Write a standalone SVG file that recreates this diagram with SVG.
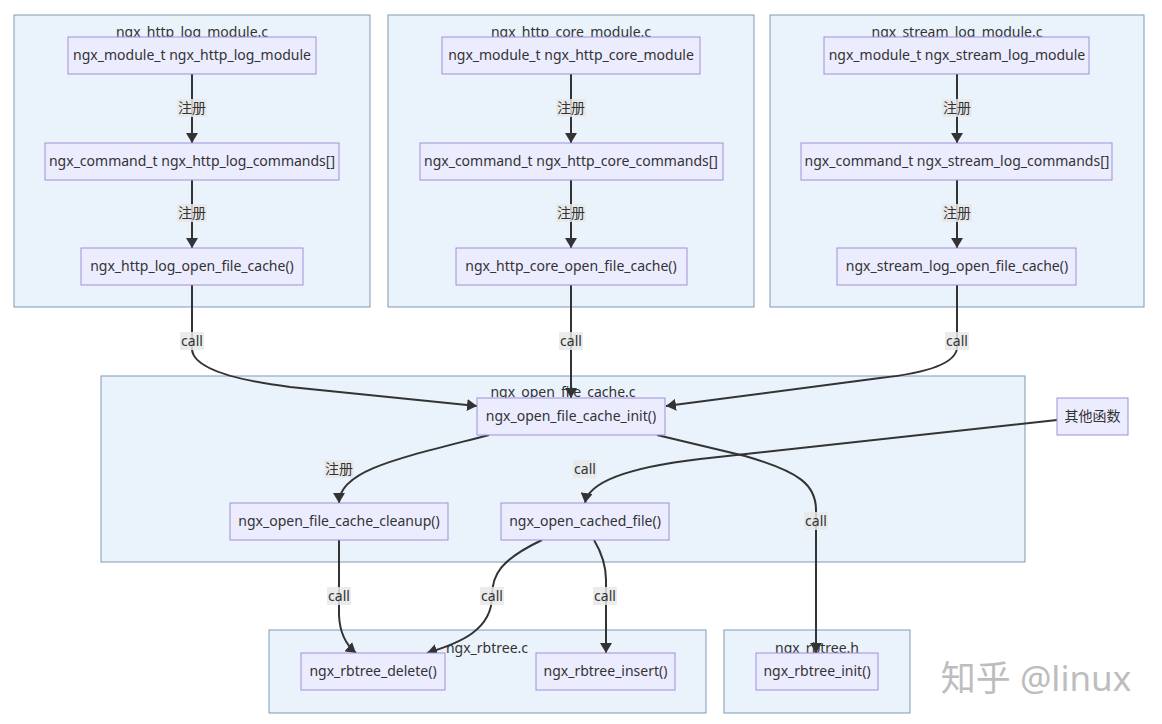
<svg xmlns="http://www.w3.org/2000/svg" width="1162" height="724" viewBox="0 0 1162 724">
<defs>
<marker id="ah" viewBox="0 0 10 12" refX="10" refY="6" markerWidth="10" markerHeight="12" markerUnits="userSpaceOnUse" orient="auto"><path d="M0,0 L10,6 L0,12 z" fill="#333"/></marker>
<style>
.cl{fill:#eaf2fb;stroke:#7d9bb5;stroke-width:1}
.nd{fill:#ececff;stroke:#9f8fd6;stroke-width:1}
text{font-family:"Noto Sans","Noto Sans CJK SC",sans-serif;font-size:14px;fill:#333;text-anchor:middle}
.e{fill:none;stroke:#333;stroke-width:2;marker-end:url(#ah)}
.lb{fill:#e8e8e8;fill-opacity:0.85}
</style>
</defs>
<rect width="1162" height="724" fill="#fff"/>
<g id="clusters">
<g id="c_http_log"><rect class="cl" x="14" y="15" width="356" height="292"/><text x="192" y="37">ngx_http_log_module.c</text></g>
<g id="c_http_core"><rect class="cl" x="388" y="15" width="366" height="292"/><text x="571" y="37">ngx_http_core_module.c</text></g>
<g id="c_stream_log"><rect class="cl" x="770" y="15" width="374" height="292"/><text x="957" y="37">ngx_stream_log_module.c</text></g>
<g id="c_open_file"><rect class="cl" x="101" y="376" width="924" height="186"/><text x="563" y="397">ngx_open_file_cache.c</text></g>
<g id="c_rbtree_c"><rect class="cl" x="269" y="630" width="437" height="83"/><text x="487" y="653">ngx_rbtree.c</text></g>
<g id="c_rbtree_h"><rect class="cl" x="724" y="630" width="186" height="83"/><text x="817" y="653">ngx_rbtree.h</text></g>
</g>
<g id="connectors">
<path class="e" d="M192,74 L192,143"/>
<path class="e" d="M192,180 L192,248"/>
<path class="e" d="M571,74 L571,143"/>
<path class="e" d="M571,180 L571,248"/>
<path class="e" d="M957,74 L957,143"/>
<path class="e" d="M957,180 L957,248"/>
<path class="e" d="M192,285 L192,350 Q195,375 290,387 L477,406"/>
<path class="e" d="M571,285 L571,398"/>
<path class="e" d="M957,285 L957,348 Q955,370 880,378 L666,406"/>
<path class="e" d="M489,435 C400,458 339,470 339,503"/>
<path class="e" d="M1057,420 L700,459 Q590,472 585,503"/>
<path class="e" d="M657,435 L745,456 C800,472 816,485 816,510 L816,653"/>
<path class="e" d="M339,540 L339,615 Q340,640 356,653"/>
<path class="e" d="M542,540 C500,560 492,575 492,596 C492,630 460,643 427,653"/>
<path class="e" d="M594,540 Q606,560 606,580 L606,653"/>
<g id="edge-labels">
<rect class="lb" x="177" y="99" width="30" height="18"/><text x="192" y="113">注册</text>
<rect class="lb" x="177" y="204" width="30" height="18"/><text x="192" y="218">注册</text>
<rect class="lb" x="556" y="99" width="30" height="18"/><text x="571" y="113">注册</text>
<rect class="lb" x="556" y="204" width="30" height="18"/><text x="571" y="218">注册</text>
<rect class="lb" x="942" y="99" width="30" height="18"/><text x="957" y="113">注册</text>
<rect class="lb" x="942" y="204" width="30" height="18"/><text x="957" y="218">注册</text>
<rect class="lb" x="180" y="332" width="24" height="18"/><text x="192" y="346">call</text>
<rect class="lb" x="559" y="332" width="24" height="18"/><text x="571" y="346">call</text>
<rect class="lb" x="945" y="332" width="24" height="18"/><text x="957" y="346">call</text>
<rect class="lb" x="324" y="460" width="30" height="18"/><text x="339" y="474">注册</text>
<rect class="lb" x="573" y="460" width="24" height="18"/><text x="585" y="474">call</text>
<rect class="lb" x="804" y="512" width="24" height="18"/><text x="816" y="526">call</text>
<rect class="lb" x="327" y="587" width="24" height="18"/><text x="339" y="601">call</text>
<rect class="lb" x="480" y="587" width="24" height="18"/><text x="492" y="601">call</text>
<rect class="lb" x="593" y="587" width="24" height="18"/><text x="605" y="601">call</text>
</g>
</g>
<g id="n_http_log_module"><rect class="nd" x="68" y="37" width="248" height="37"/><text x="192" y="60">ngx_module_t ngx_http_log_module</text></g>
<g id="n_http_log_commands"><rect class="nd" x="45" y="143" width="294" height="37"/><text x="192" y="166">ngx_command_t ngx_http_log_commands[]</text></g>
<g id="n_http_log_ofc"><rect class="nd" x="81" y="248" width="222" height="37"/><text x="192" y="271">ngx_http_log_open_file_cache()</text></g>
<g id="n_http_core_module"><rect class="nd" x="442" y="37" width="258" height="37"/><text x="571" y="60">ngx_module_t ngx_http_core_module</text></g>
<g id="n_http_core_commands"><rect class="nd" x="420" y="143" width="303" height="37"/><text x="571" y="166">ngx_command_t ngx_http_core_commands[]</text></g>
<g id="n_http_core_ofc"><rect class="nd" x="456" y="248" width="231" height="37"/><text x="571" y="271">ngx_http_core_open_file_cache()</text></g>
<g id="n_stream_log_module"><rect class="nd" x="824" y="37" width="265" height="37"/><text x="957" y="60">ngx_module_t ngx_stream_log_module</text></g>
<g id="n_stream_log_commands"><rect class="nd" x="801" y="143" width="311" height="37"/><text x="957" y="166">ngx_command_t ngx_stream_log_commands[]</text></g>
<g id="n_stream_log_ofc"><rect class="nd" x="837" y="248" width="239" height="37"/><text x="957" y="271">ngx_stream_log_open_file_cache()</text></g>
<g id="n_ofc_init"><rect class="nd" x="477" y="398" width="188" height="37"/><text x="571" y="421">ngx_open_file_cache_init()</text></g>
<g id="n_other"><rect class="nd" x="1057" y="398" width="71" height="37"/><text x="1092.5" y="421">其他函数</text></g>
<g id="n_ofc_cleanup"><rect class="nd" x="230" y="503" width="218" height="37"/><text x="339" y="526">ngx_open_file_cache_cleanup()</text></g>
<g id="n_open_cached_file"><rect class="nd" x="501" y="503" width="168" height="37"/><text x="585" y="526">ngx_open_cached_file()</text></g>
<g id="n_rbtree_delete"><rect class="nd" x="301" y="653" width="144" height="37"/><text x="373" y="676">ngx_rbtree_delete()</text></g>
<g id="n_rbtree_insert"><rect class="nd" x="536" y="653" width="139" height="37"/><text x="605.5" y="676">ngx_rbtree_insert()</text></g>
<g id="n_rbtree_init"><rect class="nd" x="756" y="653" width="122" height="37"/><text x="817" y="676">ngx_rbtree_init()</text></g>
<text x="1036" y="691" style="font-size:35px;fill:#bdbdbd">知乎 @linux</text>
</svg>
